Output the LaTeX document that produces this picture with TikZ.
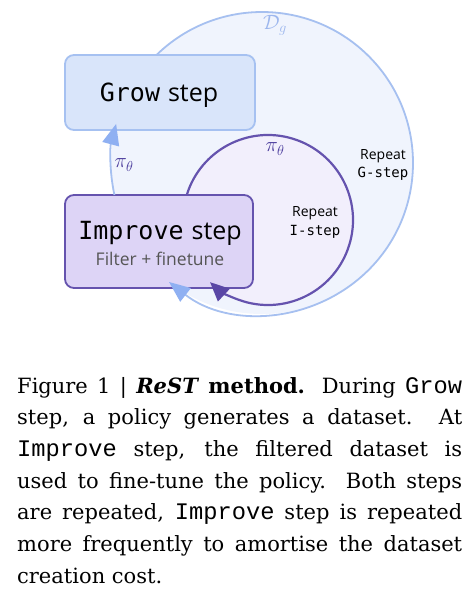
\documentclass[tikz,border=0pt]{standalone}
\usepackage{fontspec}
\setmainfont{DejaVu Serif}
\newfontfamily\dsans{Open Sans}
\newfontfamily\dmono{DejaVu Sans Mono}
\newfontfamily\cmono[Scale=1.13]{Liberation Mono}
\usetikzlibrary{arrows.meta,calc}
\definecolor{bigfill}{HTML}{F0F4FD}
\definecolor{bigline}{HTML}{A6C0F0}
\definecolor{arrowblue}{HTML}{8FB0F2}
\definecolor{growfill}{HTML}{D9E5FA}
\definecolor{growline}{HTML}{A6C1F1}
\definecolor{impfill}{HTML}{DDD4F6}
\definecolor{impline}{HTML}{6553AE}
\definecolor{smallfill}{HTML}{F2EFFC}
\definecolor{purparrow}{HTML}{5A47A6}
\definecolor{pitext}{HTML}{4A3B9C}
\definecolor{dgtext}{HTML}{9DB7EE}
\definecolor{graytext}{HTML}{555555}
\tikzset{
  growbox/.style={draw=growline,fill=growfill,line width=1.8pt,rounded corners=9pt,minimum width=190pt,minimum height=75pt,inner sep=0pt},
  impbox/.style={draw=impline,fill=impfill,line width=1.8pt,rounded corners=9pt,minimum width=188pt,minimum height=93pt,inner sep=0pt},
  bluearc/.style={draw=bigline,line width=1.8pt,-{Triangle[length=21pt,width=17pt,color=arrowblue]}},
  purparc/.style={draw=impline,line width=2.2pt,-{Triangle[length=19pt,width=17pt,color=purparrow]}},
  bigtext/.style={inner sep=0pt,anchor=base,font=\fontsize{25}{30}\selectfont},
  smalltext/.style={inner sep=0pt,anchor=base,font=\fontsize{14}{17}\selectfont},
  pilabel/.style={inner sep=0pt,text=pitext,font=\fontsize{21}{24}\selectfont},
}
\begin{document}
\begin{tikzpicture}[x=1pt,y=-1pt]
\fill[white] (0,0) rectangle (474,602);
\useasboundingbox (0,0) rectangle (474,602);
\coordinate (G) at (262,163);
\coordinate (I) at (268,220);
\fill[bigfill] (G) circle[radius=151];
\fill[smallfill] (I) circle[radius=85];
\node[growbox] (grow) at (160,92.5) {};
\node[impbox] (imp) at (159,241.5) {};
% arcs with arrows
\draw[bluearc] ($(G)+(167.8:151)$) arc[start angle=167.8,end angle=195,radius=151];
\draw[bluearc] ($(G)+(225.7:151)$) arc[start angle=225.7,end angle=488,radius=151];
\draw[purparc] ($(I)+(197.1:85)$) arc[start angle=197.1,end angle=493,radius=85];
% texts
\node[bigtext] (growt) at (159,101) {{\dmono Grow} {\dsans step}};
\node[bigtext] (impt) at (160,239) {{\dmono Improve} {\dsans step}};
\node[inner sep=0pt,anchor=base,text=graytext,font=\dsans\fontsize{17.5}{20}\selectfont] (filt) at (160,265) {Filter + finetune};
\node[smalltext] (rg1) at (383,159) {\dsans Repeat};
\node[smalltext] (rg2) at (383,177.5) {\dmono G-step};
\node[smalltext] (ri1) at (315,216.7) {\dsans Repeat};
\node[smalltext] (ri2) at (315,235.5) {\dmono I-step};
\node[pilabel] (pi1) at (124,165) {$\pi_\theta$};
\node[pilabel] (pi2) at (275,149) {$\pi_\theta$};
\node[inner sep=0pt,text=dgtext,font=\fontsize{22}{24}\selectfont] (dg) at (275,25) {$\mathcal{D}_g$};
% caption
\node[anchor=base west,inner sep=0pt] (cap) at (17,393) {\parbox[t]{445pt}{\fontsize{21}{31.67}\selectfont Figure 1 | \textbf{\textit{ReST}} \textbf{method.} During {\cmono Grow}\linebreak step, a policy generates a dataset. At\linebreak {\cmono Improve} step, the filtered dataset is\linebreak used to fine-tune the policy. Both steps\linebreak are repeated, {\cmono Improve} step is repeated\linebreak more frequently to amortise the dataset\linebreak creation cost.}};
\end{tikzpicture}
\end{document}
